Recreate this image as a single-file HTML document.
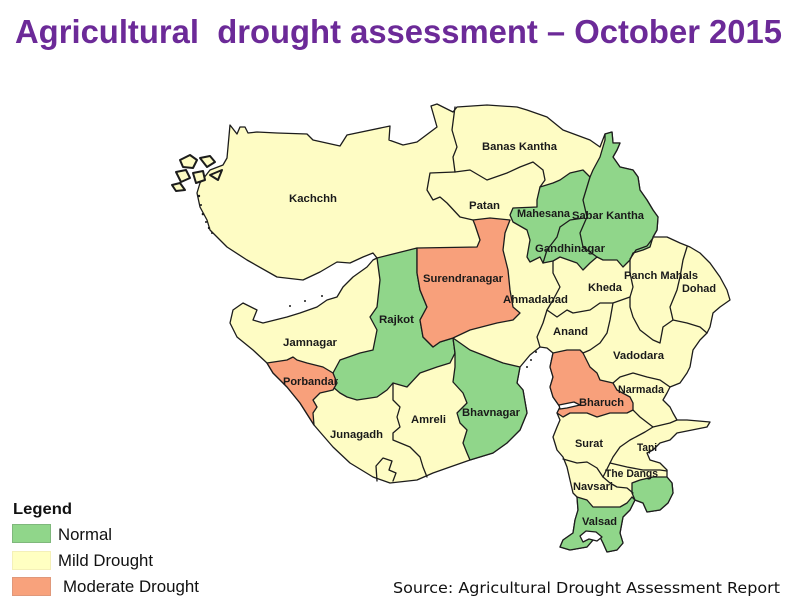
<!DOCTYPE html>
<html>
<head>
<meta charset="utf-8">
<style>
html,body{margin:0;padding:0;background:#fff;}
svg{display:block;}
.lb{font-family:"Liberation Sans",Arial,sans-serif;font-weight:bold;font-size:11.3px;fill:#1a1a1a;}
</style>
</head>
<body>
<svg width="800" height="615" viewBox="0 0 800 615" xmlns="http://www.w3.org/2000/svg">
<rect width="800" height="615" fill="#fff"/>

<!-- Title -->
<text x="15" y="43" font-family="Liberation Sans, Arial, sans-serif" font-weight="bold" font-size="33" fill="#6c2a98" textLength="767" lengthAdjust="spacingAndGlyphs" style="white-space:pre">Agricultural  drought assessment – October 2015</text>

<g stroke="#1c1c1c" stroke-width="1.3" stroke-linejoin="round" stroke-linecap="round">
<!-- State outline (mild drought base) -->
<path fill="#fefcc4" d="M227,158 L230,125 L237,134 L240,127 L245,127 L248,133 L257,132 L277,133 L307,134 L313,140 L340,146 L347,135 L390,126 L389,140 L403,145 L417,142 L437,127 L431,106 L437,104 L453,112 L457,107 L487,105 L517,107 L527,110 L547,117 L563,130 L590,140 L600,147 L605,134 L612,132 L613,143 L620,143 L617,150 L613,157 L620,167 L633,170 L638,177 L640,190 L647,200 L653,210 L658,217 L657,230 L653,237 L667,237 L680,243 L690,247 L700,253 L710,263 L720,277 L727,290 L730,300 L720,307 L713,313 L710,327 L707,333 L700,340 L693,350 L690,367 L687,373 L680,383 L670,387 L667,393 L663,400 L670,407 L673,413 L677,420 L687,420 L710,422 L707,427 L677,433 L670,440 L660,443 L653,450 L647,453 L650,460 L660,463 L667,470 L667,477 L672,483 L673,493 L668,503 L660,510 L647,512 L643,503 L635,500 L630,510 L623,517 L620,533 L623,543 L617,550 L607,552 L603,543 L600,537 L593,540 L587,547 L570,550 L560,547 L563,540 L573,533 L575,520 L578,510 L577,497 L573,493 L570,480 L567,467 L563,457 L557,450 L553,437 L557,427 L560,420 L557,413 L560,407 L553,397 L550,387 L553,377 L550,367 L553,353 L547,348 L540,347 L530,355 L520,367 L517,383 L523,390 L527,413 L520,430 L507,443 L493,453 L470,460 L450,467 L433,473 L417,480 L390,483 L373,477 L350,463 L333,447 L320,432 L314,425 L300,403 L287,387 L273,373 L267,363 L253,350 L237,337 L230,323 L233,310 L243,303 L257,310 L253,320 L263,323 L287,317 L300,313 L317,307 L327,300 L337,297 L343,287 L353,277 L367,267 L373,260 L377,258 L373,253 L363,257 L350,263 L337,262 L320,272 L303,280 L277,277 L247,260 L227,247 L210,230 L207,220 L200,207 L197,193 L200,183 L210,170 L223,165 Z"/>

<!-- Green: Mahesana / Gandhinagar / Sabar Kantha -->
<path fill="#90d68a" d="M540,187 L553,183 L560,180 L570,173 L583,170 L590,177 L593,170 L600,157 L605,140 L605,134 L612,132 L613,143 L620,143 L617,150 L613,157 L620,167 L633,170 L638,177 L640,190 L647,200 L653,210 L658,217 L657,230 L653,237 L650,247 L643,250 L633,253 L630,260 L623,267 L617,260 L603,260 L597,257 L590,263 L583,270 L577,263 L560,257 L553,261 L543,263 L540,257 L530,262 L527,257 L530,240 L527,230 L513,222 L510,215 L513,208 L537,207 L537,200 Z"/>
<!-- Green: Rajkot -->
<path fill="#90d68a" d="M377,258 L397,253 L417,248 L417,273 L420,290 L427,307 L420,320 L423,337 L433,347 L440,342 L453,338 L455,353 L450,363 L437,367 L420,373 L407,387 L393,383 L387,390 L377,397 L357,400 L347,397 L340,393 L333,387 L333,373 L340,360 L360,353 L373,350 L377,330 L370,317 L377,307 L380,280 Z"/>
<!-- Green: Bhavnagar -->
<path fill="#90d68a" d="M453,338 L470,350 L503,363 L520,367 L517,383 L523,390 L527,413 L520,430 L507,443 L493,453 L470,460 L467,453 L463,443 L467,430 L460,423 L457,413 L467,403 L463,393 L453,382 L455,367 L455,353 Z"/>
<!-- Green: Valsad -->
<path fill="#90d68a" d="M577,497 L587,500 L593,507 L607,507 L620,507 L627,503 L632,497 L635,500 L630,510 L623,517 L620,533 L623,543 L617,550 L607,552 L603,543 L600,537 L593,540 L587,547 L570,550 L560,547 L563,540 L573,533 L575,520 L578,510 Z"/>
<path fill="#ffffff" d="M580,536 L586,531 L596,532 L602,537 L597,541 L589,539 L583,542 Z"/>
<!-- Green: Dangs -->
<path fill="#90d68a" d="M632,483 L640,480 L653,477 L667,477 L672,483 L673,493 L668,503 L660,510 L647,512 L643,503 L635,500 L632,493 Z"/>

<!-- Orange: Surendranagar -->
<path fill="#f8a07b" d="M417,248 L477,247 L480,240 L475,225 L473,220 L490,218 L510,220 L505,233 L503,250 L508,270 L510,290 L513,307 L520,313 L513,320 L497,323 L470,330 L453,338 L440,342 L433,347 L423,337 L420,320 L427,307 L420,290 L417,273 Z"/>
<!-- Orange: Porbandar -->
<path fill="#f8a07b" d="M267,363 L287,360 L293,357 L297,360 L307,363 L323,367 L333,373 L337,383 L333,390 L320,393 L313,400 L317,407 L313,413 L314,425 L300,403 L287,387 L273,373 Z"/>
<!-- Orange: Bharuch -->
<path fill="#f8a07b" d="M553,353 L567,350 L580,350 L583,353 L590,367 L597,373 L600,380 L613,383 L617,390 L630,397 L633,403 L633,410 L627,413 L610,413 L597,417 L587,413 L570,413 L563,417 L557,413 L560,407 L553,397 L550,387 L553,377 L550,367 Z"/>
<path fill="#ffffff" d="M559,405 L574,402 L580,405 L567,408 L560,409 Z"/>

<!-- Internal boundaries -->
<g fill="none">
<path d="M455,107 L452,130 L457,147 L453,157 L455,172"/>
<path d="M455,172 L430,173 L427,190 L433,200 L440,197 L447,203 L460,217 L473,220"/>
<path d="M455,172 L470,170 L487,180 L507,173 L520,167 L533,162 L543,170 L545,180 L540,187"/>
<path d="M590,177 L583,200 L587,217 L580,233 L583,247 L597,257"/>
<path d="M584,218 L570,220 L560,227 L557,237 L547,250 L543,263"/>
<path d="M553,261 L553,273 L560,287 L553,300 L547,310 L543,323 L537,337 L540,347"/>
<path d="M547,310 L557,317 L567,310 L573,313 L590,310 L600,303 L613,303 L630,297"/>
<path d="M630,260 L630,273 L633,287 L630,297"/>
<path d="M630,259 L636,250 L647,246 L653,238"/>
<path d="M630,297 L630,307 L633,317 L640,330 L653,340 L660,343 L663,327 L673,320"/>
<path d="M687,247 L683,260 L680,277 L677,290 L670,307 L673,320 L687,323 L700,327 L707,333"/>
<path d="M613,303 L610,320 L607,333 L600,343 L590,350 L583,353"/>
<path d="M613,383 L620,377 L633,373 L647,377 L660,380 L670,387"/>
<path d="M633,410 L640,417 L653,427 L670,423 L677,420"/>
<path d="M653,427 L645,432 L630,440 L620,447 L613,457 L610,463 L603,477"/>
<path d="M610,463 L627,467 L643,470 L660,470 L667,471"/>
<path d="M563,459 L577,463 L587,462 L597,468 L603,477 L610,483 L617,487 L627,488 L633,493"/>
<path d="M393,383 L393,400 L400,407 L397,417 L400,427 L393,433 L393,440 L410,447 L420,457 L423,467 L427,477"/>
<path d="M377,481 L376,466 L383,458 L392,461 L389,470 L396,473 L393,481"/>
</g>
</g>

<!-- Kachchh islands -->
<g stroke="#1c1c1c" stroke-width="2" fill="#fefcc4" stroke-linejoin="round">
<path d="M180,160 L190,155 L197,160 L193,168 L183,167 Z"/>
<path d="M200,158 L210,156 L215,162 L207,167 Z"/>
<path d="M176,172 L186,170 L190,178 L181,182 Z"/>
<path d="M193,173 L203,171 L205,180 L196,183 Z"/>
<path d="M210,175 L222,170 L218,180 Z"/>
<path d="M172,185 L180,183 L185,190 L176,191 Z"/>
</g>
<g fill="#1c1c1c">
<circle cx="199" cy="196" r="1.2"/><circle cx="201" cy="205" r="1"/><circle cx="203" cy="214" r="1.3"/>
<circle cx="206" cy="222" r="1"/><circle cx="209" cy="228" r="1.2"/><circle cx="212" cy="233" r="1"/>
<circle cx="290" cy="306" r="1"/><circle cx="305" cy="301" r="1"/><circle cx="322" cy="296" r="1"/>
<circle cx="536" cy="352" r="1"/><circle cx="531" cy="360" r="1"/><circle cx="527" cy="367" r="1"/>
</g>

<!-- District labels -->
<text class="lb" x="289" y="202" textLength="48" lengthAdjust="spacingAndGlyphs">Kachchh</text>
<text class="lb" x="482" y="150" textLength="75" lengthAdjust="spacingAndGlyphs">Banas Kantha</text>
<text class="lb" x="469" y="209" textLength="31" lengthAdjust="spacingAndGlyphs">Patan</text>
<text class="lb" x="517" y="217" textLength="53" lengthAdjust="spacingAndGlyphs">Mahesana</text>
<text class="lb" x="572" y="219" textLength="72" lengthAdjust="spacingAndGlyphs">Sabar Kantha</text>
<text class="lb" x="535" y="252" textLength="70" lengthAdjust="spacingAndGlyphs">Gandhinagar</text>
<text class="lb" x="423" y="282" textLength="80" lengthAdjust="spacingAndGlyphs">Surendranagar</text>
<text class="lb" x="503" y="303" textLength="65" lengthAdjust="spacingAndGlyphs">Ahmadabad</text>
<text class="lb" x="588" y="291" textLength="34" lengthAdjust="spacingAndGlyphs">Kheda</text>
<text class="lb" x="624" y="279" textLength="74" lengthAdjust="spacingAndGlyphs">Panch Mahals</text>
<text class="lb" x="682" y="292" textLength="34" lengthAdjust="spacingAndGlyphs">Dohad</text>
<text class="lb" x="553" y="335" textLength="35" lengthAdjust="spacingAndGlyphs">Anand</text>
<text class="lb" x="613" y="359" textLength="51" lengthAdjust="spacingAndGlyphs">Vadodara</text>
<text class="lb" x="618" y="393" textLength="46" lengthAdjust="spacingAndGlyphs">Narmada</text>
<text class="lb" x="579" y="406" textLength="45" lengthAdjust="spacingAndGlyphs">Bharuch</text>
<text class="lb" x="575" y="447" textLength="28" lengthAdjust="spacingAndGlyphs">Surat</text>
<text class="lb" x="637" y="451" textLength="20" lengthAdjust="spacingAndGlyphs">Tapi</text>
<text class="lb" x="605" y="477" textLength="53" lengthAdjust="spacingAndGlyphs">The Dangs</text>
<text class="lb" x="573" y="490" textLength="40" lengthAdjust="spacingAndGlyphs">Navsari</text>
<text class="lb" x="582" y="525" textLength="35" lengthAdjust="spacingAndGlyphs">Valsad</text>
<text class="lb" x="379" y="323" textLength="35" lengthAdjust="spacingAndGlyphs">Rajkot</text>
<text class="lb" x="283" y="346" textLength="54" lengthAdjust="spacingAndGlyphs">Jamnagar</text>
<text class="lb" x="283" y="385" textLength="55" lengthAdjust="spacingAndGlyphs">Porbandar</text>
<text class="lb" x="462" y="416" textLength="58" lengthAdjust="spacingAndGlyphs">Bhavnagar</text>
<text class="lb" x="411" y="423" textLength="35" lengthAdjust="spacingAndGlyphs">Amreli</text>
<text class="lb" x="330" y="438" textLength="53" lengthAdjust="spacingAndGlyphs">Junagadh</text>

<!-- Legend -->
<text x="13" y="514" font-family="Liberation Sans, Arial, sans-serif" font-weight="bold" font-size="16" fill="#111" textLength="59" lengthAdjust="spacingAndGlyphs">Legend</text>
<rect x="12.5" y="524.5" width="38" height="18" fill="#90d68a" stroke="#7fb87c" stroke-width="1"/>
<rect x="12.5" y="551.5" width="38" height="18" fill="#ffffc2" stroke="#f4f0b8" stroke-width="1"/>
<rect x="12.5" y="577.5" width="38" height="18" fill="#f8a27c" stroke="#e0987a" stroke-width="1"/>
<text x="58" y="540" font-family="Liberation Sans, Arial, sans-serif" font-size="16.5" fill="#111" textLength="54" lengthAdjust="spacingAndGlyphs">Normal</text>
<text x="58" y="566" font-family="Liberation Sans, Arial, sans-serif" font-size="16.5" fill="#111" textLength="95" lengthAdjust="spacingAndGlyphs">Mild Drought</text>
<text x="63" y="592" font-family="Liberation Sans, Arial, sans-serif" font-size="16.5" fill="#111" textLength="136" lengthAdjust="spacingAndGlyphs">Moderate Drought</text>

<!-- Source -->
<text x="393" y="593" font-family="DejaVu Sans, Liberation Sans, sans-serif" font-size="15.5" fill="#111" textLength="387" lengthAdjust="spacingAndGlyphs">Source: Agricultural Drought Assessment Report</text>
</svg>
</body>
</html>
